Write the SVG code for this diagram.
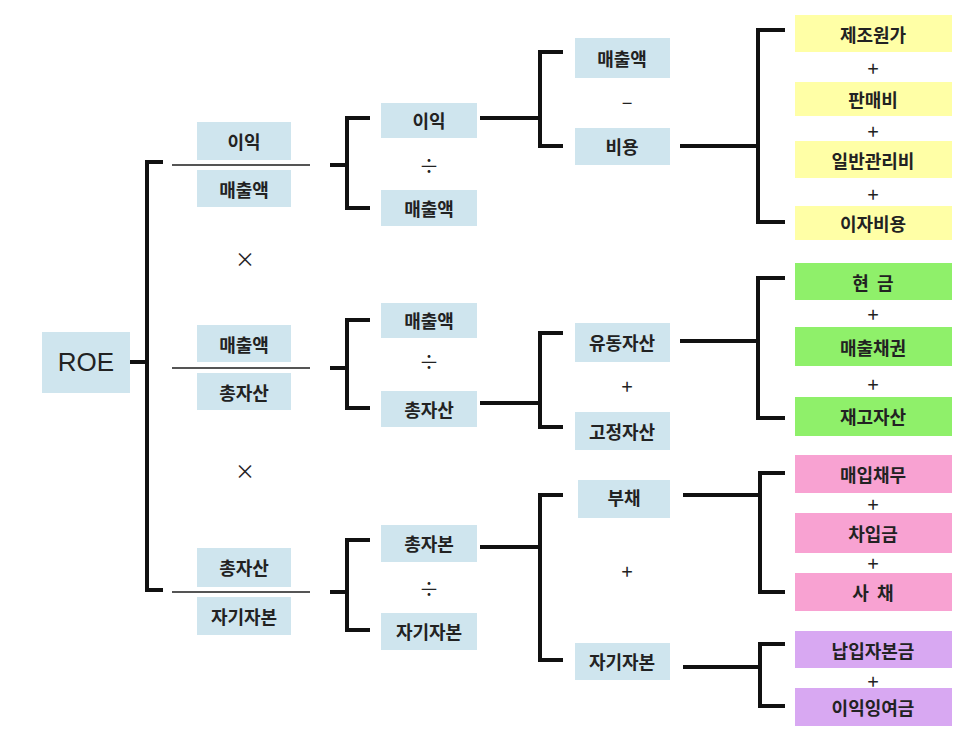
<svg xmlns="http://www.w3.org/2000/svg" width="966" height="736" viewBox="0 0 966 736">
<style>
text{font-family:"Noto Sans CJK KR","Noto Sans",sans-serif;font-size:18px;font-weight:700;fill:#222;text-anchor:middle;dominant-baseline:central}
.op{font-weight:400;font-size:20px}
.b{fill:#cfe5ee}.y{fill:#ffffa6}.g{fill:#8ff06a}.p{fill:#f8a2d2}.v{fill:#d8a8f2}
.c path{fill:none;stroke:#111;stroke-width:4}
.c .f{stroke:#555;stroke-width:2}
</style>
<rect width="966" height="736" fill="#fff"/>
<g class="c">
<path d="M130 362H147M163 162H147V590H163"/>
<path class="f" d="M172 165H310M172 368H310M172 592H310"/>
<path d="M330 165H347M370 118H347V208H370"/>
<path d="M330 368H347M370 320H347V408H370"/>
<path d="M330 592H347M370 540H347V630H370"/>
<path d="M480 118H540M563 52H540V146H563"/>
<path d="M480 403H540M563 333H540V427H563"/>
<path d="M480 547H540M563 495H540V660H563"/>
<path d="M680 146H758M785 30H758V222H785"/>
<path d="M680 341H758M785 278H758V418H785"/>
<path d="M683 495H760M785 473H760V592H785"/>
<path d="M683 667H760M785 644H760V706H785"/>
</g>
<g id="roe"><rect class="b" x="42" y="332" width="88" height="61"/><text x="86" y="362" style="font-weight:400;font-size:26px;font-family:'Liberation Sans',sans-serif">ROE</text></g>
<g id="f1"><rect class="b" x="197" y="122" width="94" height="38"/><text x="244" y="141">이익</text><rect class="b" x="197" y="170" width="94" height="37"/><text x="244" y="189">매출액</text></g>
<g id="f2"><rect class="b" x="197" y="325" width="94" height="37"/><text x="244" y="344">매출액</text><rect class="b" x="197" y="373" width="94" height="37"/><text x="244" y="392">총자산</text></g>
<g id="f3"><rect class="b" x="197" y="548" width="94" height="39"/><text x="244" y="567">총자산</text><rect class="b" x="197" y="597" width="94" height="38"/><text x="244" y="616">자기자본</text></g>
<text class="op" x="245" y="258">×</text><text class="op" x="245" y="470">×</text>
<g id="l2a"><rect class="b" x="381" y="103" width="96" height="35"/><text x="429" y="120">이익</text><text class="op" x="429" y="165">÷</text><rect class="b" x="381" y="190" width="96" height="36"/><text x="429" y="208">매출액</text></g>
<g id="l2b"><rect class="b" x="381" y="303" width="96" height="35"/><text x="429" y="320">매출액</text><text class="op" x="429" y="361">÷</text><rect class="b" x="381" y="391" width="96" height="36"/><text x="429" y="409">총자산</text></g>
<g id="l2c"><rect class="b" x="381" y="525" width="96" height="37"/><text x="429" y="543">총자본</text><text class="op" x="429" y="588">÷</text><rect class="b" x="381" y="613" width="96" height="37"/><text x="429" y="631">자기자본</text></g>
<g id="l3a"><rect class="b" x="575" y="38" width="95" height="40"/><text x="622" y="58">매출액</text><text class="op" x="627" y="100">–</text><rect class="b" x="575" y="128" width="95" height="37"/><text x="622" y="146">비용</text></g>
<g id="l3b"><rect class="b" x="575" y="323" width="95" height="39"/><text x="622" y="342">유동자산</text><text class="op" x="627" y="385">+</text><rect class="b" x="575" y="412" width="95" height="38"/><text x="622" y="431">고정자산</text></g>
<g id="l3c"><rect class="b" x="578" y="480" width="92" height="38"/><text x="624" y="497">부채</text><text class="op" x="627" y="570">+</text><rect class="b" x="575" y="643" width="95" height="37"/><text x="622" y="661">자기자본</text></g>
<g id="yel"><rect class="y" x="795" y="15" width="157" height="37"/><text x="873" y="34">제조원가</text><text class="op" x="873" y="67">+</text><rect class="y" x="795" y="82" width="157" height="34"/><text x="873" y="99">판매비</text><text class="op" x="873" y="130">+</text><rect class="y" x="795" y="141" width="157" height="37"/><text x="873" y="160">일반관리비</text><text class="op" x="873" y="193">+</text><rect class="y" x="795" y="206" width="157" height="34"/><text x="873" y="223">이자비용</text></g>
<g id="grn"><rect class="g" x="795" y="263" width="157" height="37"/><text x="873" y="282" xml:space="preserve">현  금</text><text class="op" x="873" y="313">+</text><rect class="g" x="795" y="327" width="157" height="39"/><text x="873" y="347">매출채권</text><text class="op" x="873" y="383">+</text><rect class="g" x="795" y="397" width="157" height="39"/><text x="873" y="416">재고자산</text></g>
<g id="pnk"><rect class="p" x="795" y="455" width="157" height="38"/><text x="873" y="474">매입채무</text><text class="op" x="873" y="503">+</text><rect class="p" x="795" y="513" width="157" height="40"/><text x="873" y="533">차입금</text><text class="op" x="873" y="562">+</text><rect class="p" x="795" y="573" width="157" height="38"/><text x="873" y="592" xml:space="preserve">사  채</text></g>
<g id="pur"><rect class="v" x="795" y="631" width="157" height="37"/><text x="873" y="650">납입자본금</text><text class="op" x="873" y="680">+</text><rect class="v" x="795" y="688" width="157" height="38"/><text x="873" y="707">이익잉여금</text></g>
</svg>
